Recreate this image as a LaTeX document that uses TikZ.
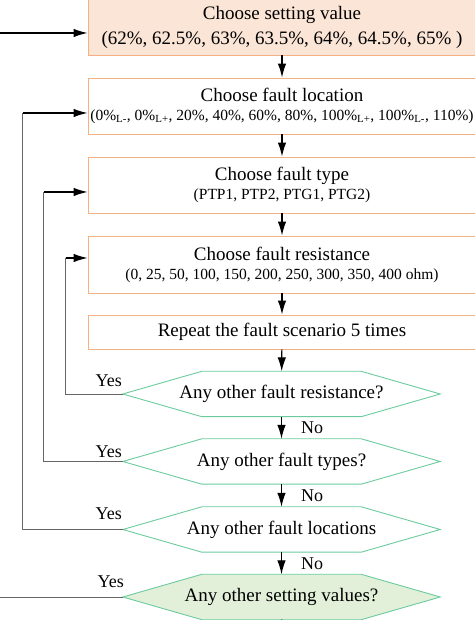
\documentclass[tikz,border=0pt]{standalone}
\usepackage{fontspec}
\setmainfont{Liberation Serif}
\usetikzlibrary{arrows.meta,backgrounds}

\definecolor{boxline}{HTML}{F4B183}
\definecolor{boxfill}{HTML}{FBE5D6}
\definecolor{hexline}{HTML}{6CCB9E}
\definecolor{hexfill}{HTML}{E2F0D9}
\newcommand{\subsize}{\fontsize{15.5}{18}\selectfont}
% hexagon frame round a question node
\newcommand{\hexframe}[2][]{\draw[hexline, line width=0.9pt, #1](#2.west)--([xshift=79]#2.north west)--([xshift=-79]#2.north east)--(#2.east)--([xshift=-79]#2.south east)--([xshift=79]#2.south west)--cycle;}

\tikzset{
    stepbox/.style={draw=boxline, line width=0.9pt, minimum width=388pt, minimum height=56pt, align=center, inner sep=2pt, font=\fontsize{19}{25}\selectfont},
    question/.style={minimum width=317pt, minimum height=45pt, inner sep=0pt, font=\fontsize{19}{22}\selectfont},
    arr/.style={line width=1.2pt, -{Latex[length=14pt,width=8.5pt]}},
    backline/.style={draw=gray!80!black, line width=0.8pt},
    lab/.style={inner sep=0pt, font=\fontsize{18}{20}\selectfont}
}

\begin{document}
\begin{tikzpicture}[x=1pt, y=1pt]
    \useasboundingbox (0,0) rectangle (474,620);

    % steps
    \node[stepbox, fill=boxfill] (setval) at (282,593) {Choose setting value\\(62\%, 62.5\%, 63\%, 63.5\%, 64\%, 64.5\%, 65\% )};
    \node[stepbox] (faultloc) at (282,514) {Choose fault location\\[-6pt]{\subsize(0\%\textsubscript{L-}, 0\%\textsubscript{L+}, 20\%, 40\%, 60\%, 80\%, 100\%\textsubscript{L+}, 100\%\textsubscript{L-}, 110\%)}};
    \node[stepbox] (faulttype) at (282,435) {Choose fault type\\[-6pt]{\subsize(PTP1, PTP2, PTG1, PTG2)}};
    \node[stepbox, minimum height=57pt] (faultres) at (282,355.5) {Choose fault resistance\\[-6pt]{\subsize(0, 25, 50, 100, 150, 200, 250, 300, 350, 400 ohm)}};
    \node[stepbox, minimum height=34pt] (repeat) at (282,288) {Repeat the fault scenario 5 times};

    % questions
    \node[question] (qres) at (281.5,226) {Any other fault resistance?};
    \node[question] (qtype) at (281.5,158.5) {Any other fault types?};
    \node[question] (qloc) at (281.5,90.5) {Any other fault locations};
    \node[question] (qset) at (281.5,23) {Any other setting values?};
    \coordinate (done) at (282,-20);
    \begin{scope}[on background layer]
        \hexframe{qres}
        \hexframe{qtype}
        \hexframe{qloc}
        \hexframe[fill=hexfill]{qset}
    \end{scope}

    % main flow
    \draw[arr](setval)--(faultloc);
    \draw[arr](faultloc)--(faulttype);
    \draw[arr](faulttype)--(faultres);
    \draw[arr](faultres)--(repeat);
    \draw[arr](repeat)--(qres);
    \draw[arr](qres)--node[lab, right=19pt]{No}(qtype);
    \draw[arr](qtype)--node[lab, right=19pt]{No}(qloc);
    \draw[arr](qloc)--node[lab, right=19pt]{No}(qset);
    \draw[arr](qset)--(done);

    % loops back
    \coordinate (inres) at ([yshift=6.5]faultres.west);
    \coordinate (intype) at ([yshift=-7]faulttype.west);
    \coordinate (inloc) at ([yshift=-7]faultloc.west);
    \coordinate (inset) at ([yshift=-6]setval.west);

    \draw[backline](qres.west)-|([xshift=-22]inres)coordinate(kres);
    \draw[arr](kres)--(inres);
    \draw[backline](qtype.west)-|([xshift=-44]intype)coordinate(ktype);
    \draw[arr](ktype)--(intype);
    \draw[backline](qloc.west)-|([xshift=-65]inloc)coordinate(kloc);
    \draw[arr](kloc)--(inloc);
    \draw[backline](qset.west)-|([xshift=-95]inset)coordinate(kset);
    \draw[arr](kset)--(inset);

    \node[lab] (yres) at ([shift={(-14,13)}]qres.west) {Yes};
    \node[lab] (ytype) at ([shift={(-14,10)}]qtype.west) {Yes};
    \node[lab] (yloc) at ([shift={(-14,16)}]qloc.west) {Yes};
    \node[lab] (yset) at ([shift={(-12,15)}]qset.west) {Yes};
\end{tikzpicture}
\end{document}
